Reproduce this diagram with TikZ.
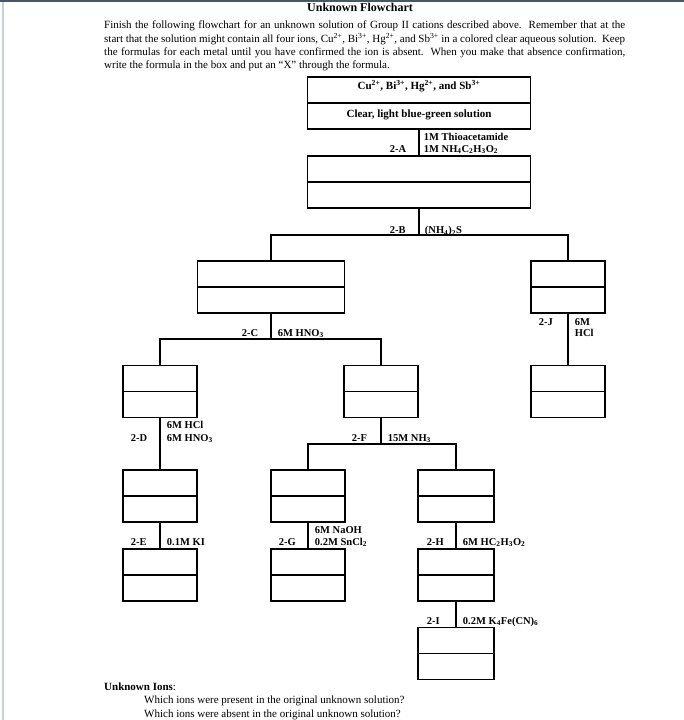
\documentclass[tikz,border=0pt]{standalone}
\usepackage{fontspec}
\setmainfont{Liberation Serif}
\usepackage{xcolor}
\usepackage{tikz}

\definecolor{pageedge}{RGB}{72,86,102}
\definecolor{marginline}{RGB}{202,207,216}

\newcommand{\chemlbl}{\fontsize{10.5}{12}\selectfont\bfseries}
\newcommand{\chembox}{\fontsize{11}{13}\selectfont\bfseries}
\newcommand{\chembody}{\fontsize{11}{13.1}\selectfont}

\begin{document}
\begin{tikzpicture}[x=1pt,y=1pt,yscale=-1,xscale=1,
  twobox/.style={draw,line width=1.4pt,minimum height=52pt,inner sep=0pt,outer sep=0pt,
    path picture={\draw [line width=1.4pt] (path picture bounding box.west) -- (path picture bounding box.east);}},
  flow/.style={line width=1.4pt},
  stepname/.style={anchor=base west,inner sep=0.75pt,font=\chemlbl},
  reagent/.style={anchor=base west,inner sep=0.75pt,font=\chemlbl}]

\useasboundingbox (0,0) rectangle (684,720);

\draw [pageedge, line width=2pt] (0,1) -- (684,1) ;

\draw [marginline, line width=1.2pt] (3,2) -- (3,720) ;


\draw (360,11) node (title) [anchor=base][inner sep=0.75pt] [font=\fontsize{12}{14}\selectfont\bfseries] {Unknown Flowchart};

\draw (104,21) node (intro) [anchor=north west][inner sep=0pt] [font=\chembody] [text width=521pt, align=justify] {Finish the following flowchart for an unknown solution of Group II cations described above.\ \ Remember that at the\linebreak start that the solution might contain all four ions, Cu\textsuperscript{2+}, Bi\textsuperscript{3+}, Hg\textsuperscript{2+}, and Sb\textsuperscript{3+} in a colored clear aqueous solution.\ \ Keep\linebreak the formulas for each metal until you have confirmed the ion is absent.\ \ When you make that absence confirmation,\linebreak write the formula in the box and put an “X” through the formula.};


\draw (419,103) node (top) [twobox, minimum width=223pt] {};

\draw (419,89) node (ions) [anchor=base][inner sep=0.75pt] [font=\chembox] {Cu\textsuperscript{2+}, Bi\textsuperscript{3+}, Hg\textsuperscript{2+}, and Sb\textsuperscript{3+}};

\draw (419,117) node (look) [anchor=base][inner sep=0.75pt] [font=\chembox] {Clear, light blue-green solution};

\draw (419,182) node (boxA) [twobox, minimum width=223pt] {};

\draw (271,287) node (boxBL) [twobox, minimum width=147pt] {};

\draw (568,287) node (boxBR) [twobox, minimum width=74pt] {};

\draw (160,391.5) node (boxCL) [twobox, minimum width=74pt] {};

\draw (381,391.5) node (boxCR) [twobox, minimum width=74pt] {};

\draw (568,391.5) node (boxJ) [twobox, minimum width=74pt] {};

\draw (160,496) node (boxD) [twobox, minimum width=74pt] {};

\draw (308,496) node (boxFL) [twobox, minimum width=74pt] {};

\draw (456,496) node (boxFR) [twobox, minimum width=76pt] {};

\draw (160,575) node (boxE) [twobox, minimum width=74pt] {};

\draw (308,575) node (boxG) [twobox, minimum width=74pt] {};

\draw (456,575) node (boxH) [twobox, minimum width=76pt] {};

\draw (456,653.5) node (boxI) [twobox, minimum width=76pt] {};


\coordinate (jB) at (419,235);
\coordinate (jC) at (271,339);
\coordinate (jF) at (381,444);

\draw [flow] (top.south) -- (boxA.north) ;

\draw [flow] (boxA.south) -- (jB) ;

\draw [flow] (boxBL.north) |- (jB) -| (boxBR.north) ;

\draw [flow] (boxBL.south) -- (jC) ;

\draw [flow] (boxCL.north) |- (jC) -| (boxCR.north) ;

\draw [flow] (boxBR.south) -- (boxJ.north) ;

\draw [flow] (boxCL.south) -- (boxD.north) ;

\draw [flow] (boxCR.south) -- (jF) ;

\draw [flow] (boxFL.north) |- (jF) -| (boxFR.north) ;

\draw [flow] (boxD.south) -- (boxE.north) ;

\draw [flow] (boxFL.south) -- (boxG.north) ;

\draw [flow] (boxFR.south) -- (boxH.north) ;

\draw [flow] (boxH.south) -- (boxI.north) ;


\draw (389,152) node (stepA) [stepname] {2-A};

\draw (423,140.5) node (reagA1) [reagent] {1M Thioacetamide};

\draw (423,152) node (reagA2) [reagent] {1M NH\textsubscript{4}C\textsubscript{2}H\textsubscript{3}O\textsubscript{2}};

\draw (389,233.5) node (stepB) [stepname] {2-B};

\draw (424,233.5) node (reagB) [reagent] {(NH\textsubscript{4})\textsubscript{2}S};

\draw (241,336) node (stepC) [stepname] {2-C};

\draw (277,336) node (reagC) [reagent] {6M HNO\textsubscript{3}};

\draw (538,325) node (stepJ) [stepname] {2-J};

\draw (574,325) node (reagJ1) [reagent] {6M};

\draw (574,336) node (reagJ2) [reagent] {HCl};

\draw (130,441) node (stepD) [stepname] {2-D};

\draw (166,428) node (reagD1) [reagent] {6M HCl};

\draw (166,441) node (reagD2) [reagent] {6M HNO\textsubscript{3}};

\draw (351,441) node (stepF) [stepname] {2-F};

\draw (387,441) node (reagF) [reagent] {15M NH\textsubscript{3}};

\draw (130,545) node (stepE) [stepname] {2-E};

\draw (166,545) node (reagE) [reagent] {0.1M KI};

\draw (278,545) node (stepG) [stepname] {2-G};

\draw (314,533) node (reagG1) [reagent] {6M NaOH};

\draw (314,545) node (reagG2) [reagent] {0.2M SnCl\textsubscript{2}};

\draw (426,545) node (stepH) [stepname] {2-H};

\draw (462,545) node (reagH) [reagent] {6M HC\textsubscript{2}H\textsubscript{3}O\textsubscript{2}};

\draw (426,624) node (stepI) [stepname] {2-I};

\draw (462,624) node (reagI) [reagent] {0.2M K\textsubscript{4}Fe(CN)\textsubscript{6}};


\draw (104,690) node (ionshead) [anchor=base west][inner sep=0pt] [font=\chembody] {\textbf{Unknown Ions}:};

\draw (144,703) node (askpresent) [anchor=base west][inner sep=0pt] [font=\chembody] {Which ions were present in the original unknown solution?};

\draw (144,717) node (askabsent) [anchor=base west][inner sep=0pt] [font=\chembody] {Which ions were absent in the original unknown solution?};

\end{tikzpicture}
\end{document}
